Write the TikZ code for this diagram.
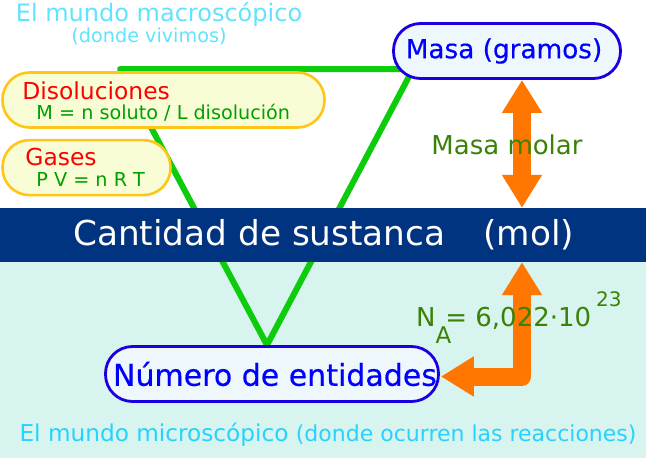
\documentclass[tikz,border=0pt]{standalone}
\usepackage{fontspec}
\setmainfont{DejaVu Sans}
\newfontfamily\heavyfont[FakeBold=0.4]{DejaVu Sans}
\usetikzlibrary{positioning,backgrounds,arrows.meta}

\definecolor{bandblue}{HTML}{003380}
\definecolor{panelgreen}{HTML}{D8F4EE}
\definecolor{linegreen}{HTML}{0CCC0C}
\definecolor{arroworange}{HTML}{FF7700}
\definecolor{boxblue}{HTML}{1A00E0}
\definecolor{boxfill}{HTML}{EEF7FB}
\definecolor{tagborder}{HTML}{FFC61A}
\definecolor{tagfill}{HTML}{F8FDD5}
\definecolor{formulagreen}{HTML}{00A000}
\definecolor{factorgreen}{HTML}{3A8206}
\definecolor{skyblue}{HTML}{5FE3FF}
\definecolor{microblue}{HTML}{26D2FF}

\tikzset{
    quantity/.style={draw=boxblue, line width=2.8pt, fill=boxfill, text=blue, rounded corners=27pt, minimum height=55pt, inner sep=0pt},
    tag/.style={draw=tagborder, line width=2.6pt, fill=tagfill, rounded corners=27pt, minimum height=55pt, inner sep=0pt},
    tagtitle/.style={text=red, font=\fontsize{23.4}{25}\selectfont, inner sep=0pt, anchor=west},
    tagformula/.style={text=formulagreen, font=\fontsize{19.2}{22}\selectfont, inner sep=0pt, anchor=west},
    factor/.style={text=factorgreen, font=\fontsize{26}{28}\selectfont, inner sep=0pt},
    conversion/.style={draw=arroworange, line width=18pt, line join=round, {Triangle[length=33pt,width=38pt]}-{Triangle[length=33pt,width=38pt]}},
}

\begin{document}
\begin{tikzpicture}[x=1pt, y=-1pt]
    \useasboundingbox (0,0) rectangle (646,458);

    \node[fill=bandblue, text=white, minimum width=646pt, minimum height=54pt, inner sep=0pt, font=\fontsize{34.3}{36}\selectfont] (moles) at (323,235) {\raisebox{1pt}{\hspace*{1pt}Cantidad de sustanca\hspace{0.78em} (mol)}};

    \node[quantity, minimum width=227pt, font=\heavyfont\fontsize{26.3}{30}\selectfont] (masa) at (507,51) {\raisebox{-1pt}{Masa (gramos)}\hspace*{6pt}};
    \node[quantity, minimum width=333pt, font=\heavyfont\fontsize{30}{32}\selectfont] (entidades) at (272,374) {\hspace*{6pt}Número de entidades};

    \node[tag, minimum width=322pt] (disol) at (163.5,100) {};
    \node[tag, minimum width=168pt, below=10pt of disol.south west, anchor=north west] (gases) {};

    \node[tagtitle] (disoltitle) at ([xshift=21pt,yshift=9.5pt]disol.west) {Disoluciones};
    \node[tagformula] (disolformula) at ([xshift=35pt,yshift=-13pt]disol.west) {M = n soluto / L disolución};
    \node[tagtitle] (gasestitle) at ([xshift=24pt,yshift=11pt]gases.west) {Gases};
    \node[tagformula] (gasesformula) at ([xshift=35pt,yshift=-12pt]gases.west) {P V = n R T};

    \node[text=skyblue, font=\fontsize{24}{26}\selectfont, inner sep=0pt] (macro) at (159,14.5) {El mundo macroscópico};
    \node[text=skyblue, font=\fontsize{19.2}{21}\selectfont, inner sep=0pt] (vivimos) at (149,36) {(donde vivimos)};
    \node[text=microblue, font=\fontsize{23.2}{25}\selectfont, inner sep=0pt] (micro) at (328,435) {El mundo microscópico {\fontsize{22}{24}\selectfont(donde ocurren las reacciones)}};

    \coordinate (apex) at (267,345);
    \coordinate (corner) at (120,69);
    \coordinate (topright) at (413,69);
    \coordinate (upmasa) at ([xshift=15pt]masa.south);
    \coordinate (downmoles) at (upmasa |- moles.north);
    \coordinate (upmoles) at (upmasa |- moles.south);
    \coordinate (tipentidades) at ([xshift=1pt,yshift=-2.5pt]entidades.east);
    \coordinate (elbow) at (upmasa |- tipentidades);

    \begin{pgfonlayer}{background}
        \fill[panelgreen] (0,262) rectangle (646,458);
        \draw[linegreen, line width=6pt, line join=round, line cap=round] (topright) -- (corner) -- (apex) -- cycle;
    \end{pgfonlayer}

    \draw[conversion] (upmasa) -- (downmoles);
    \draw[conversion] (upmoles) -- (elbow) -- (tipentidades);

    \node[factor] (molar) at (507,145) {Masa molar};
    \node[factor, anchor=base west] (avogadro) at (416,326) {N\raisebox{-17pt}{\fontsize{23}{25}\selectfont A}\hspace{-6pt}= 6,022·10\raisebox{20pt}{\hspace{5pt}\fontsize{20}{22}\selectfont 23}};
\end{tikzpicture}
\end{document}
